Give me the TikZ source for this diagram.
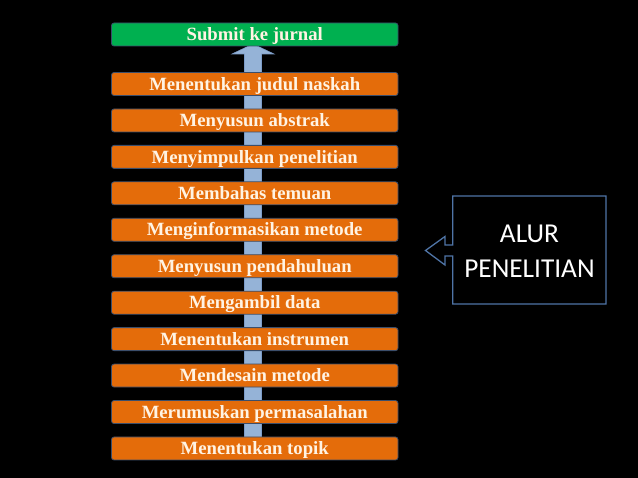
\documentclass[tikz,border=0pt]{standalone}
\usepackage{fontspec}
\setmainfont{Liberation Serif}
\newfontfamily\calib{Carlito}
\usetikzlibrary{calc}
\definecolor{orng}{HTML}{E46C0A}
\definecolor{grn}{HTML}{00B050}
\definecolor{shaft}{HTML}{95B3D7}
\definecolor{shaftb}{HTML}{7C9CC8}
\definecolor{boxb}{HTML}{3B4E6B}
\definecolor{txt}{HTML}{FFF3E3}
\definecolor{callb}{HTML}{4F74A6}
\begin{document}
\begin{tikzpicture}[x=1pt,y=-1pt,
  stepbox/.style={draw=boxb, line width=0.8pt, fill=orng, rounded corners=2.5pt,
    minimum width=286.5pt, minimum height=23pt, inner sep=0pt,
    text height=12.4pt, text depth=0pt,
    text=txt, font=\fontsize{18.7}{20}\selectfont\bfseries},
  topbox/.style={stepbox, fill=grn}]
\fill[black] (0,0) rectangle (638,478);
\useasboundingbox (0,0) rectangle (638,478);
% shaft behind boxes
\coordinate (tip) at (253,44);
\filldraw[fill=shaft, draw=shaftb, line width=0.6pt]
  (244.5,448) -- (244.5,54) -- (232,54) -- (tip) -- (274,54) -- (261.5,54) -- (261.5,448) -- cycle;
\node[topbox] (submit) at (254.75,34.5) {Submit ke jurnal};
\foreach \t/\n [count=\i from 0] in {Menentukan judul naskah/judul, Menyusun abstrak/abstrak,
  Menyimpulkan penelitian/simpul, Membahas temuan/bahas, Menginformasikan metode/info,
  Menyusun pendahuluan/pendahuluan, Mengambil data/data, Menentukan instrumen/instrumen,
  Mendesain metode/desain, Merumuskan permasalahan/rumus, Menentukan topik/topik}
  \node[stepbox] (\n) at (254.75,84+36.45*\i) {\t};
% callout
\draw[callb, line width=1.3pt, line join=miter]
  (452.7,196) -- (606,196) -- (606,304) -- (452.7,304) -- (452.7,256) -- (445,256)
  -- (445,265) -- (425.5,250.5) -- (445,236.5) -- (445,245) -- (452.7,245) -- cycle;
\node[text=white, font=\calib\fontsize{27.3}{35}\selectfont, align=center] (alur) at (529.5,251) {ALUR\\PENELITIAN};
\end{tikzpicture}
\end{document}
